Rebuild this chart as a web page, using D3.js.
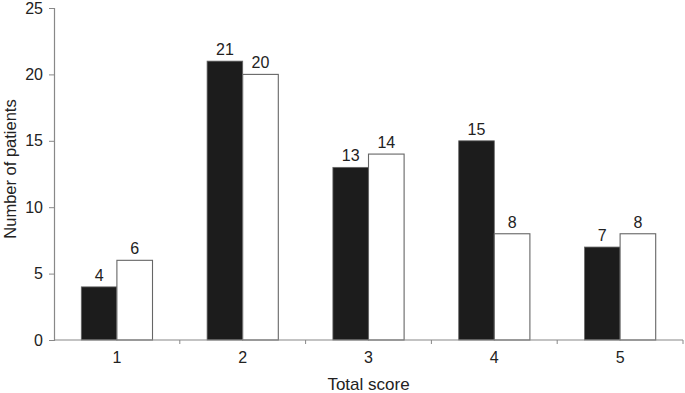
<!doctype html>
<html lang="en">
<head>
<meta charset="utf-8">
<style>
  body { margin: 0; background: #fff; }
  text { font-family: "Liberation Sans", Arial, sans-serif; fill: #222; }
</style>
</head>
<body>
<div id="grafico"></div>
<script src="https://d3js.org/d3.v7.min.js"></script>
<script>

var categorias = ["1", "2", "3", "4", "5"];
var serieNegra = [4, 21, 13, 15, 7];
var serieBlanca = [6, 20, 14, 8, 8];
var ticksY = [0, 5, 10, 15, 20, 25];

var ancho = 685, alto = 393;
var m = { top: 8, right: 2, bottom: 53, left: 54 };

var svg = d3.select("#grafico").append("svg").attr("width", ancho).attr("height", alto);

var x = d3.scaleBand().domain(categorias).range([m.left, ancho - m.right]);
var y = d3.scaleLinear().domain([0, 25]).range([alto - m.bottom, m.top]);

var barra = x.bandwidth() * 0.283;

// eje y
var ejeY = svg.append("g").attr("transform", "translate(" + m.left + ",0)")
  .call(d3.axisLeft(y).tickValues(ticksY).tickSize(5).tickPadding(6));
ejeY.selectAll("text").style("font-size", "16px").attr("fill", "#222");

// barras
var grupo = svg.selectAll("g.cat").data(categorias).enter().append("g").attr("class", "cat");

grupo.append("rect")
  .attr("x", function(d) { return x(d) + x.bandwidth() / 2 - barra; })
  .attr("y", function(d, i) { return y(serieNegra[i]); })
  .attr("width", barra)
  .attr("height", function(d, i) { return y(0) - y(serieNegra[i]); })
  .attr("fill", "#1c1c1c").attr("stroke", "#666").attr("stroke-width", 0.8);

grupo.append("rect")
  .attr("x", function(d) { return x(d) + x.bandwidth() / 2; })
  .attr("y", function(d, i) { return y(serieBlanca[i]); })
  .attr("width", barra)
  .attr("height", function(d, i) { return y(0) - y(serieBlanca[i]); })
  .attr("fill", "#fff").attr("stroke", "#666").attr("stroke-width", 1.1);

grupo.append("text")
  .attr("x", function(d) { return x(d) + x.bandwidth() / 2 - barra / 2; })
  .attr("y", function(d, i) { return y(serieNegra[i]) - 6; })
  .attr("text-anchor", "middle").style("font-size", "16px")
  .text(function(d, i) { return serieNegra[i]; });

grupo.append("text")
  .attr("x", function(d) { return x(d) + x.bandwidth() / 2 + barra / 2; })
  .attr("y", function(d, i) { return y(serieBlanca[i]) - 6; })
  .attr("text-anchor", "middle").style("font-size", "16px")
  .text(function(d, i) { return serieBlanca[i]; });

// eje x: linea, marcas entre categorias, etiquetas centradas
var base = y(0);
svg.append("line").attr("x1", m.left).attr("x2", ancho - m.right).attr("y1", base).attr("y2", base)
  .attr("stroke", "#888").attr("stroke-width", 1.2);
svg.selectAll("line.marca").data(categorias.slice(1).concat(["fin"])).enter().append("line")
  .attr("class", "marca")
  .attr("x1", function(d, i) { return x(categorias[i]) + x.bandwidth(); })
  .attr("x2", function(d, i) { return x(categorias[i]) + x.bandwidth(); })
  .attr("y1", base).attr("y2", base + 4).attr("stroke", "#888");
svg.selectAll("text.catx").data(categorias).enter().append("text").attr("class", "catx")
  .attr("x", function(d) { return x(d) + x.bandwidth() / 2; })
  .attr("y", base + 23).attr("text-anchor", "middle").style("font-size", "16px")
  .text(function(d) { return d; });

ejeY.select(".domain").attr("stroke", "#888").attr("stroke-width", 1.2);
ejeY.selectAll(".tick line").attr("stroke", "#888");

// titulos
svg.append("text").attr("x", (m.left + ancho - m.right) / 2).attr("y", 390)
  .attr("text-anchor", "middle").style("font-size", "17px").text("Total score");
svg.append("text").attr("transform", "translate(16,169) rotate(-90)")
  .attr("text-anchor", "middle").style("font-size", "16.5px").text("Number of patients");

</script>
</body>
</html>
